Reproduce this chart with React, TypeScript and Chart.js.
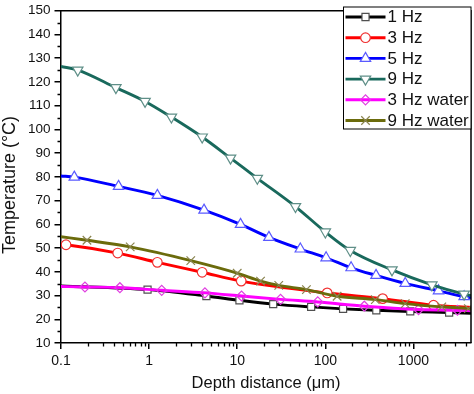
import React, { useEffect, useRef } from 'react';
import { Chart, registerables } from 'chart.js';
import { drawPoint } from 'chart.js/helpers';

Chart.register(...registerables);

const seriesNames = ['1 Hz', '3 Hz', '5 Hz', '9 Hz', '3 Hz water', '9 Hz water'];

const hz1X = [0.1, 0.96, 4.47, 10.6, 25.6, 69, 159, 379, 920, 2540, 4500];
const hz1Y = [34, 32.5, 29.8, 28, 26.4, 25.2, 24.4, 23.8, 23.3, 22.8, 22.5];

const hz3X = [0.1, 0.114, 0.44, 1.24, 4.0, 11.1, 105, 447, 1690, 4500];
const hz3Y = [51.6, 51.4, 47.9, 44, 39.8, 36.1, 31.1, 28.7, 25.9, 25];

const hz5X = [0.1, 0.1415, 0.45, 1.24, 4.2, 10.9, 22.9, 52, 102, 196, 376, 807, 1925, 3760, 4500];
const hz5Y = [80.4, 79.9, 76, 72.2, 66, 60, 54.5, 49.6, 45.9, 41.7, 38.5, 35.1, 32, 29.5, 29];

const hz9X = [0.1, 0.155, 0.42, 0.9, 1.79, 4.0, 8.4, 16.9, 45.8, 100, 192, 571, 1620, 3760, 4500];
const hz9Y = [126.5, 125, 117.6, 111.8, 105.2, 96.8, 87.9, 79.4, 67.5, 56.8, 49, 40.8, 34.5, 30.6, 30];

const hz3wX = [0.1, 0.187, 0.466, 1.39, 4.3, 11.2, 31, 82, 277, 1143, 3160, 4500];
const hz3wY = [33.8, 33.6, 33.3, 32.2, 31.1, 29.8, 28.4, 27.3, 25.5, 24.1, 23.8, 23.6];

const hz9wX = [0.1, 0.197, 0.61, 2.97, 10, 18.4, 29.6, 61, 136, 369, 807, 2100, 4200, 4500];
const hz9wY = [54.8, 53.3, 50.5, 44.7, 39.4, 36.1, 34.3, 32.5, 29.7, 28.3, 26.6, 25.2, 24.5, 24.3];

const xTickValues = [0.1, 1, 10, 100, 1000];
const xTickLabels = ['0.1', '1', '10', '100', '1000'];
const xMin = 0.1;
const xMax = 4500;
const yMin = 10;
const yMax = 150;
const yStep = 10;

const FONT = "'Liberation Sans', Arial, sans-serif";

const seriesX = [hz1X, hz3X, hz5X, hz9X, hz3wX, hz9wX];
const seriesY = [hz1Y, hz3Y, hz5Y, hz9Y, hz3wY, hz9wY];

const styles = [
  { line: '#000000', marker: '#505050', fill: '#ffffff', pointStyle: 'rect', radius: 5, rotation: 0 },
  { line: '#ff0000', marker: '#f03030', fill: '#ffffff', pointStyle: 'circle', radius: 4.8, rotation: 0 },
  { line: '#0000ff', marker: '#5a5aff', fill: '#ffffff', pointStyle: 'triangle', radius: 6, rotation: 0 },
  { line: '#19695c', marker: '#5f8f88', fill: '#ffffff', pointStyle: 'triangle', radius: 6, rotation: 180 },
  { line: '#ff00ff', marker: '#e040e0', fill: 'rgba(255,255,255,0)', pointStyle: 'rectRot', radius: 5, rotation: 0 },
  { line: '#6b6b0c', marker: '#8a8450', fill: 'rgba(255,255,255,0)', pointStyle: 'crossRot', radius: 6, rotation: 0 },
];

const LINE_W = 2.9;

const extrasPlugin = {
  id: 'extras',
  afterDraw(chart: any) {
    const ctx = chart.ctx;
    const area = chart.chartArea;
    const xs = chart.scales.x;
    const ys = chart.scales.y;
    ctx.save();
    // minor ticks
    ctx.strokeStyle = '#000';
    ctx.lineWidth = 1.3;
    ctx.beginPath();
    for (let v = yMin + yStep / 2; v < yMax; v += yStep) {
      const py = Math.round(ys.getPixelForValue(v)) + 0.5;
      ctx.moveTo(area.left, py);
      ctx.lineTo(area.left - 3.5, py);
    }
    for (const d of xTickValues) {
      for (let m = 2; m <= 9; m++) {
        const v = d * m;
        if (v > xMax) continue;
        const px = Math.round(xs.getPixelForValue(v)) + 0.5;
        ctx.moveTo(px, area.bottom);
        ctx.lineTo(px, area.bottom + 3.5);
      }
    }
    ctx.stroke();
    // frame top/right
    ctx.lineWidth = 1.5;
    ctx.beginPath();
    ctx.moveTo(area.left, area.top);
    ctx.lineTo(area.right, area.top);
    ctx.lineTo(area.right, area.bottom);
    ctx.stroke();

    // legend
    const bx = 343.5;
    const by = 7;
    const bw = area.right - bx;
    const bh = 122;
    ctx.fillStyle = '#fff';
    ctx.fillRect(bx, by, bw, bh);
    ctx.lineWidth = 1;
    ctx.strokeStyle = '#000';
    ctx.strokeRect(bx, by, bw, bh);
    chart.data.datasets.forEach((ds: any, i: number) => {
      const st = styles[i];
      const cy = 17 + i * 20.7;
      ctx.strokeStyle = st.line;
      ctx.lineWidth = LINE_W;
      ctx.beginPath();
      ctx.moveTo(345.5, cy);
      ctx.lineTo(385.5, cy);
      ctx.stroke();
      ctx.fillStyle = st.fill;
      ctx.strokeStyle = st.marker;
      ctx.lineWidth = 1.2;
      drawPoint(ctx, { pointStyle: st.pointStyle, radius: st.radius, rotation: st.rotation, borderWidth: 1.2 }, 365.5, cy);
      ctx.fillStyle = '#111';
      ctx.font = `17px ${FONT}`;
      ctx.textAlign = 'left';
      ctx.textBaseline = 'middle';
      ctx.fillText(ds.label, 387.5, cy + 0.5);
    });

    // y title
    ctx.save();
    ctx.translate(10.5, 185);
    ctx.rotate(-Math.PI / 2);
    ctx.fillStyle = '#111';
    ctx.font = `18px ${FONT}`;
    ctx.textAlign = 'center';
    ctx.textBaseline = 'middle';
    ctx.fillText('Temperature (°C)', 0, 0);
    ctx.restore();
    ctx.restore();
  },
};

export default function App() {
  const ref = useRef<HTMLCanvasElement>(null);
  useEffect(() => {
    if (!ref.current) return;
    const datasets = seriesNames.map((name, i) => {
      const st = styles[i];
      const xsArr = seriesX[i];
      const ysArr = seriesY[i];
      const n = xsArr.length;
      return {
        label: name,
        data: xsArr.map((x, k) => ({ x, y: ysArr[k] })),
        borderColor: st.line,
        borderWidth: LINE_W,
        backgroundColor: st.fill,
        pointBackgroundColor: st.fill,
        pointBorderColor: st.marker,
        pointBorderWidth: 1.2,
        pointStyle: st.pointStyle,
        pointRotation: st.rotation,
        pointRadius: (c: any) => (c.dataIndex === 0 || c.dataIndex === n - 1 ? 0 : st.radius),
        pointHoverRadius: 0,
        cubicInterpolationMode: 'monotone',
        fill: false,
        order: 5 - i,
      };
    });
    const chart = new Chart(ref.current, {
      type: 'line',
      data: { datasets },
      options: {
        responsive: false,
        animation: false,
        events: [],
        layout: { padding: { left: 0, right: 3, top: 7, bottom: 0 } },
        plugins: { legend: { display: false }, tooltip: { enabled: false } },
        scales: {
          x: {
            type: 'logarithmic',
            min: xMin,
            max: xMax,
            afterBuildTicks: (s: any) => {
              s.ticks = xTickValues.map((v) => ({ value: v }));
            },
            afterFit: (s: any) => {
              s.height = 51;
            },
            ticks: {
              callback: (v: any) => {
                const idx = xTickValues.indexOf(Number(v));
                return idx >= 0 ? xTickLabels[idx] : '';
              },
              autoSkip: false,
              maxRotation: 0,
              font: { family: FONT, size: 14, lineHeight: 1 },
              color: '#111',
              padding: 5,
            },
            grid: { drawOnChartArea: false, drawTicks: true, tickLength: 6, color: '#000', lineWidth: 1.5 },
            border: { color: '#000', width: 1.5 },
            title: {
              display: true,
              text: 'Depth distance (μm)',
              font: { family: FONT, size: 16.5 },
              color: '#111',
              padding: { top: 0, bottom: 1 },
            },
          },
          y: {
            type: 'linear',
            min: yMin,
            max: yMax,
            afterFit: (s: any) => {
              s.width = 61;
            },
            ticks: {
              stepSize: yStep,
              font: { family: FONT, size: 13.5, lineHeight: 1 },
              color: '#111',
              padding: 4,
            },
            grid: { drawOnChartArea: false, drawTicks: true, tickLength: 6.5, color: '#000', lineWidth: 1.5 },
            border: { color: '#000', width: 1.5 },
          },
        },
      } as any,
      plugins: [extrasPlugin],
    });
    return () => chart.destroy();
  }, []);
  return (
    <div style={{ position: 'absolute', left: 0, top: 0, width: 474, height: 394 }}>
      <canvas ref={ref} width={474} height={394} style={{ display: 'block' }} />
    </div>
  );
}
